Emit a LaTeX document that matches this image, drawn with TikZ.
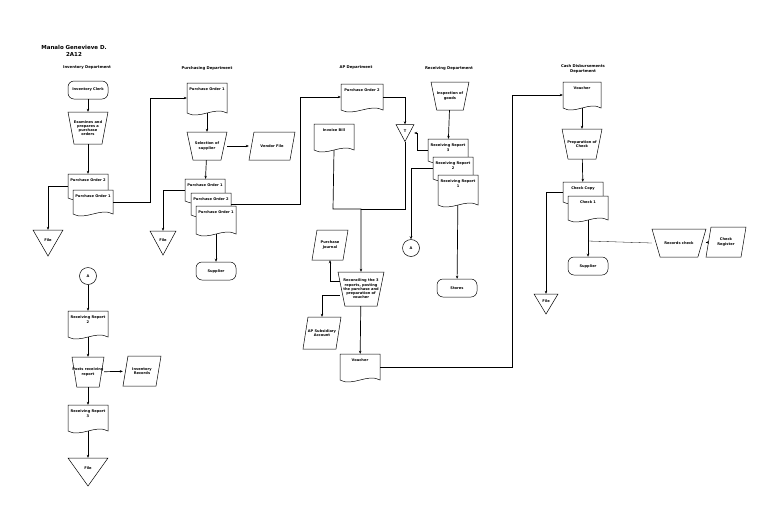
\documentclass[tikz,border=0pt]{standalone}
\usepackage{fontspec}
\setmainfont{DejaVu Sans}
\usetikzlibrary{arrows.meta,calc}
\tikzset{
 shp/.style={draw,line width=0.5pt,fill=white},
 txt/.style={inner sep=0pt,align=center,font=\fontsize{3.6}{4.2}\selectfont\bfseries},
 term/.style={draw,line width=0.5pt,fill=white,rounded corners=6pt,minimum width=40pt,minimum height=18pt,txt},
 conn/.style={draw,circle,line width=0.5pt,minimum size=17pt,txt},
 arr/.style={line width=0.7pt,-{Stealth[length=3pt,width=2.5pt]}},
 ln/.style={line width=0.7pt},
 lbl/.style={font=\fontsize{3.8}{4.5}\selectfont\bfseries,align=center}
}
\newcommand\docnode[6]{%
 \draw[shp] ({#2-#4/2},{#3-#5/2}) -- ({#2+#4/2},{#3-#5/2}) -- ({#2+#4/2},{#3+#5/2}) .. controls ({#2+#4/5},{#3+#5/2-7}) and ({#2-#4/5},{#3+#5/2+7}) .. ({#2-#4/2},{#3+#5/2}) -- cycle;
 \node[txt,minimum width=#4pt,minimum height=#5pt] (#1) at (#2,#3) {};
 \node[txt,anchor=north] at (#2,{#3-#5/2+5}) {#6};}
\newcommand\manop[6]{%
 \draw[shp] ({#2-#4/2},{#3-#5/2}) -- ({#2+#4/2},{#3-#5/2}) -- ({#2+#4*0.35},{#3+#5/2}) -- ({#2-#4*0.35},{#3+#5/2}) -- cycle;
 \node[txt,minimum width=#4pt,minimum height=#5pt] (#1) at (#2,#3) {#6};}
\newcommand\paranode[6]{%
 \draw[shp] ({#2-#4/2+5},{#3-#5/2}) -- ({#2+#4/2},{#3-#5/2}) -- ({#2+#4/2-5},{#3+#5/2}) -- ({#2-#4/2},{#3+#5/2}) -- cycle;
 \node[txt,minimum width=#4pt,minimum height=#5pt] (#1) at (#2,#3) {#6};}
\newcommand\filenode[6]{%
 \draw[shp] ({#2-#4/2},{#3-#5/2}) -- ({#2+#4/2},{#3-#5/2}) -- (#2,{#3+#5/2}) -- cycle;
 \node[txt,minimum width=#4pt,minimum height=#5pt] (#1) at (#2,#3) {};
 \node[txt] at (#2,{#3-#5/8}) {#6};}
\begin{document}
\begin{tikzpicture}[x=1pt,y=-1pt]
\useasboundingbox[fill=white] (0,0) rectangle (768,531);
\node[font=\fontsize{5.5}{6.5}\selectfont\bfseries,align=center] (title) at (74,51) {Manalo Genevieve D.\\2A12};
\node[lbl] (d1) at (87,68) {Inventory Department};
\node[lbl] (d2) at (207,68) {Purchasing Department};
\node[lbl] (d3) at (356,68) {AP Department};
\node[lbl] (d4) at (449,68) {Receiving Department};
\node[lbl] (d5) at (583,69) {Cash Disbursements\\Department};
% Inventory
\node[term] (clerk) at (88,90) {Inventory Clerk};
\manop{exam}{88}{128}{40}{32}{Examines and\\prepares a\\purchase\\orders}
\docnode{ipo2}{88}{186}{40}{24}{Purchase Order 2}
\docnode{ipo1}{93}{202}{40}{24}{Purchase Order 1}
\filenode{if1}{48}{243}{30}{26}{File}
% Purchasing
\docnode{ppo1}{207}{98}{40}{30}{Purchase Order 1}
\manop{sel}{207}{146}{40}{28}{Selection of\\supplier}
\paranode{vf}{272}{146}{46}{28}{Vendor File}
\docnode{pa}{205}{190}{40}{22}{Purchase Order 1}
\docnode{pb}{211}{204}{40}{22}{Purchase Order 2}
\docnode{pc}{216}{220}{40}{28}{Purchase Order 1}
\filenode{pf}{163}{243}{26}{24}{File}
\node[term] (sup1) at (216,271) {Supplier};
% AP
\docnode{apo2}{362}{97}{42}{26}{Purchase Order 2}
\filenode{tri}{405}{133}{18}{17}{T}
\docnode{inv}{334}{137}{40}{26}{Invoice Bill}
\paranode{pj}{330}{245}{36}{30}{Purchase\\Journal}
\manop{rec}{361}{289}{46}{34}{Reconciling the 3\\reports, posting\\the purchase and\\preparation of\\voucher}
\paranode{aps}{322}{333}{38}{32}{AP Subsidiary\\Account}
\docnode{vou}{360}{367}{40}{26}{Voucher}
% Receiving
\manop{insp}{450}{96}{38}{28}{Inspection of\\goods}
\docnode{rr3}{448}{150}{40}{22}{Receiving Report\\3}
\docnode{rr2}{453}{168}{40}{22}{Receiving Report\\2}
\docnode{rr1}{458}{190}{40}{30}{Receiving Report\\1}
\node[conn] (ca) at (411,248) {A};
\node[term] (stores) at (457,288) {Stores};
% Cash disbursements
\docnode{cv}{582}{95}{38}{26}{Voucher}
\manop{prep}{582}{144}{40}{30}{Preparation of\\Check}
\docnode{cc}{583}{192}{40}{20}{Check Copy}
\docnode{ck}{588}{208}{40}{24}{Check 1}
\filenode{cf}{546}{304}{24}{20}{File}
\node[term] (sup2) at (588,266) {Supplier};
\manop{rck}{679}{243}{54}{28}{Records check}
\paranode{cr}{726}{242}{40}{30}{Check\\Register}
% Bottom left
\node[conn] (cb) at (88,276) {A};
\docnode{brr2}{88}{324}{40}{26}{Receiving Report\\2}
\manop{post}{88}{372}{32}{30}{Posts receiving\\report}
\paranode{ir}{142}{371}{38}{30}{Inventory\\Records}
\docnode{brr3}{88}{418}{40}{26}{Receiving Report\\3}
\filenode{bf}{88}{472}{40}{28}{File}
% connectors
\draw[arr] (clerk) -- (exam);
\draw[arr] (exam) -- (ipo2);
\draw[arr] (ipo2.west) -| (if1.north);
\draw[arr] (ipo1.east) -- (150,202) |- (ppo1.west);
\draw[arr] (ppo1) -- (sel);
\draw[arr] (sel) -- (vf);
\draw[arr] (sel) -- (pa);
\draw[arr] (pa.west) -| (pf.north);
\draw[arr] (pc) -- (sup1);
\draw[arr] (pb.east) -- (300,204) |- (apo2.west);
\draw[arr] (apo2.east) -| (tri.north);
\draw[ln] (tri.south) -- (405,209) -- (361,209);
\draw[arr] (inv.south) -- (333,209) -- (361,209) -- (rec.north);
\draw[arr] ($(rec.west)+(2,-8)$) -| (pj.south);
\draw[arr] ($(rec.west)+(2,6)$) -| (aps.north);
\draw[arr] (rec) -- (vou);
\draw[arr] (vou.east) -- (512,367) |- (cv.west);
\draw[arr] (insp) -- (rr3);
\draw[arr] (rr3.west) -- ++(-10,0) |- (tri.east);
\draw[arr] (rr2.west) -- (411,168) -- (ca.north);
\draw[arr] (rr1) -- (stores);
\draw[arr] (cv) -- (prep);
\draw[arr] (prep) -- (cc);
\draw[arr] (cc.west) -| (cf.north);
\draw[arr] (ck) -- (sup2);
\draw[line width=0.3pt] (588,241) -- (rck.west);
\draw[arr] (rck) -- (cr);
\draw[arr] (cb) -- (brr2);
\draw[arr] (brr2) -- (post);
\draw[arr] (post) -- (ir);
\draw[arr] (post) -- (brr3);
\draw[arr] (brr3) -- (bf.north);
\end{tikzpicture}
\end{document}
